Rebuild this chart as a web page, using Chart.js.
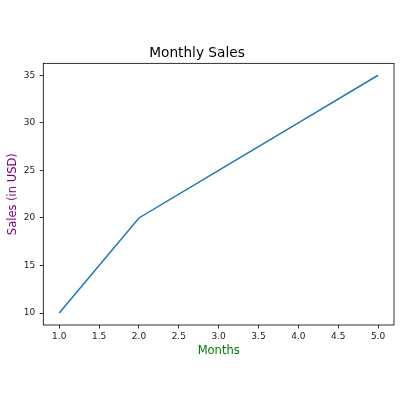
<!DOCTYPE html>
<html>
<head>
<meta charset="utf-8">
<script src="https://cdn.jsdelivr.net/npm/chart.js@4"></script>
<style>
  html, body { margin: 0; padding: 0; background: #fff; }
  canvas { display: block; }
</style>
</head>
<body>
<canvas id="c" width="400" height="400"></canvas>
<script>
const months = [1, 2, 3, 4, 5];
const sales = [10, 20, 25, 30, 35];
const xTickValues = [1.0, 1.5, 2.0, 2.5, 3.0, 3.5, 4.0, 4.5, 5.0];
const yTickValues = [10, 15, 20, 25, 30, 35];
const xRange = [0.8, 5.2];
const yRange = [8.75, 36.25];

const FONT = "'DejaVu Sans', sans-serif";

const frame = {
  id: 'frame',
  afterDatasetsDraw(chart) {
    const a = chart.chartArea, ctx = chart.ctx;
    ctx.save();
    ctx.strokeStyle = '#000';
    ctx.lineWidth = 0.8;
    ctx.strokeRect(a.left, a.top, a.right - a.left, a.bottom - a.top);
    ctx.restore();
  }
};

new Chart(document.getElementById('c'), {
  type: 'line',
  data: {
    datasets: [{
      data: months.map((m, i) => ({ x: m, y: sales[i] })),
      borderColor: '#1f77b4',
      borderWidth: 1.5,
      pointRadius: 0,
      tension: 0,
      fill: false
    }]
  },
  options: {
    responsive: false,
    animation: false,
    devicePixelRatio: 1,
    layout: { padding: { left: 0, right: 6, top: 0, bottom: 0 } },
    plugins: {
      legend: { display: false },
      tooltip: { enabled: false },
      title: {
        display: true,
        text: 'Monthly Sales',
        color: '#000',
        font: { family: FONT, size: 13.7, weight: 'normal' },
        padding: { top: 45.6, bottom: 1.3 }
      }
    },
    scales: {
      x: {
        type: 'linear',
        min: xRange[0],
        max: xRange[1],
        afterBuildTicks: s => { s.ticks = xTickValues.map(v => ({ value: v })); },
        afterFit: s => { s.height = 75; },
        border: { display: false },
        grid: { drawOnChartArea: false, drawTicks: true, tickLength: 3.5, color: '#000', lineWidth: 0.8 },
        ticks: {
          color: '#222',
          font: { family: FONT, size: 9 },
          padding: 2.6,
          maxRotation: 0,
          autoSkip: false,
          callback: v => Number(v).toFixed(1)
        },
        title: {
          display: true,
          text: 'Months',
          color: 'green',
          font: { family: FONT, size: 11.5 },
          padding: { top: 2, bottom: 42.1 }
        }
      },
      y: {
        type: 'linear',
        min: yRange[0],
        max: yRange[1],
        afterBuildTicks: s => { s.ticks = yTickValues.map(v => ({ value: v })); },
        afterFit: s => { s.width = 43.3; },
        border: { display: false },
        grid: { drawOnChartArea: false, drawTicks: true, tickLength: 3.5, color: '#000', lineWidth: 0.8 },
        ticks: {
          color: '#222',
          font: { family: FONT, size: 9 },
          padding: 4.5,
          autoSkip: false,
          callback: v => String(v)
        },
        title: {
          display: true,
          text: 'Sales (in USD)',
          color: 'purple',
          font: { family: FONT, size: 11.5 },
          padding: { top: 5.8, bottom: 2 }
        }
      }
    }
  },
  plugins: [frame]
});
</script>
</body>
</html>
